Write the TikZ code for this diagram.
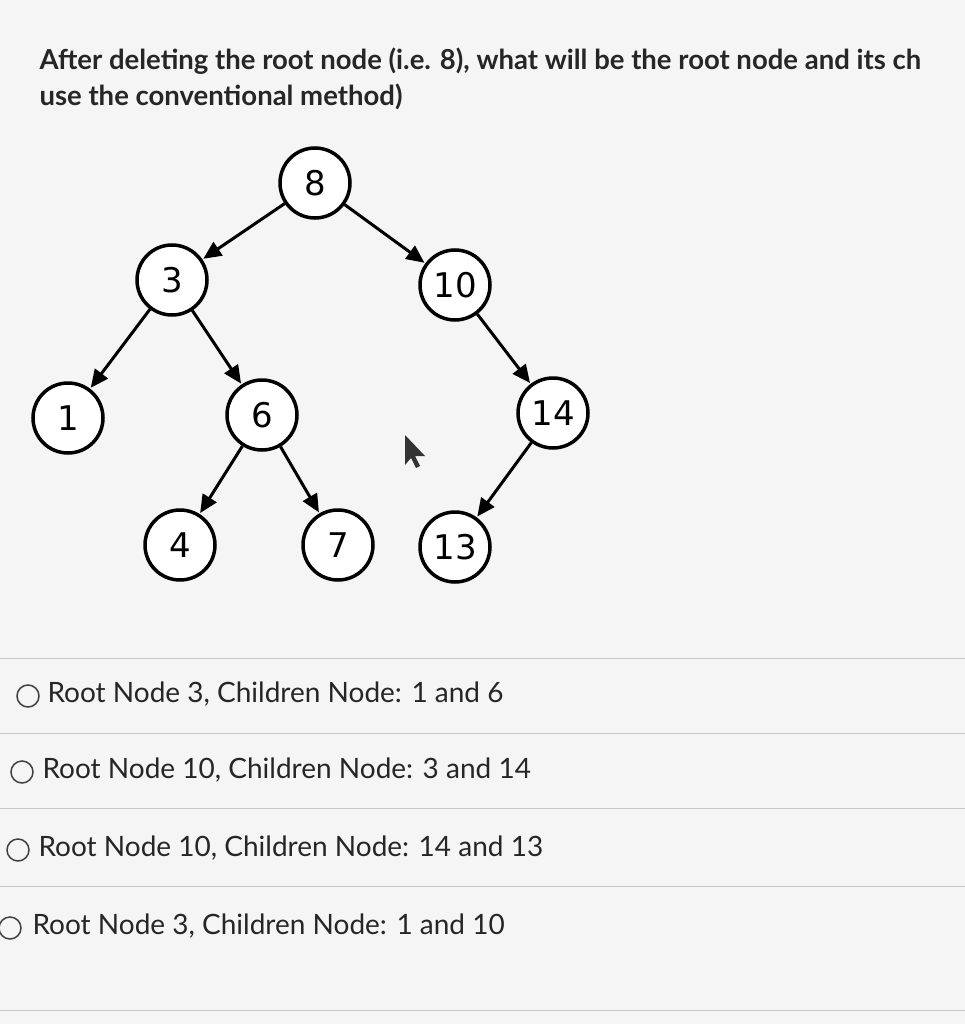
\documentclass[tikz,border=0pt]{standalone}
\usepackage{fontspec}
\setmainfont{Lato}
\newfontfamily\numfont{DejaVu Sans}
\usetikzlibrary{arrows.meta}
\begin{document}
\begin{tikzpicture}[x=1pt,y=-1pt,
  tn/.style={circle,draw=black,line width=3.5pt,fill=white,minimum size=70pt,inner sep=0pt,font=\numfont\fontsize{34}{34}\selectfont},
  edge/.style={line width=3pt,-{Triangle[length=18pt,width=16pt]},shorten >=1pt},
  sep/.style={draw=gray!45,line width=1pt},
  opt/.style={anchor=west,font=\fontsize{28}{28}\selectfont,text=black!85},
  radio/.style={circle,draw=black!75,line width=1.5pt,minimum size=22pt,inner sep=0pt},
  ttl/.style={anchor=base west,font=\bfseries\fontsize{27.5}{27.5}\selectfont,text=black!85}]
\useasboundingbox (0,0) rectangle (965,1024);
\clip (0,0) rectangle (965,1024);
\fill[gray!8] (0,0) rectangle (965,1024);
\node[ttl] (t1) at (36,70) {After deleting the root node (i.e. 8), what will be the root node and its ch};
\node[ttl] (t2) at (36,106) {use the conventional method)};
\node[tn] (n8) at (315,183) {8};
\node[tn] (n3) at (172,280) {3};
\node[tn] (n10) at (455,285) {10};
\node[tn] (n1) at (68,418) {1};
\node[tn] (n6) at (262,415) {6};
\node[tn] (n14) at (553,413) {14};
\node[tn] (n4) at (180,545) {4};
\node[tn] (n7) at (338,545) {7};
\node[tn] (n13) at (455,547) {13};
\draw[edge] (n8) -- (n3);
\draw[edge] (n8) -- (n10);
\draw[edge] (n3) -- (n1);
\draw[edge] (n3) -- (n6);
\draw[edge] (n10) -- (n14);
\draw[edge] (n6) -- (n4);
\draw[edge] (n6) -- (n7);
\draw[edge] (n14) -- (n13);
\fill[black!80] (405,435) -- (405,465) -- (411,458) -- (416,468) -- (420,466) -- (415,456) -- (425,456) -- cycle;
\draw[sep] (0,658) -- (965,658);
\draw[sep] (0,733) -- (965,733);
\draw[sep] (0,808) -- (965,808);
\draw[sep] (0,886) -- (965,886);
\draw[sep] (0,1010) -- (965,1010);
\node[radio] (r1) at (28,696) {};
\node[opt] (o1) at (44,694) {Root Node 3, Children Node: 1 and 6};
\node[radio] (r2) at (22,772) {};
\node[opt] (o2) at (39,770) {Root Node 10, Children Node: 3 and 14};
\node[radio] (r3) at (18,850) {};
\node[opt] (o3) at (35,848) {Root Node 10, Children Node: 14 and 13};
\node[radio] (r4) at (10,928) {};
\node[opt] (o4) at (29,926) {Root Node 3, Children Node: 1 and 10};
\end{tikzpicture}
\end{document}
